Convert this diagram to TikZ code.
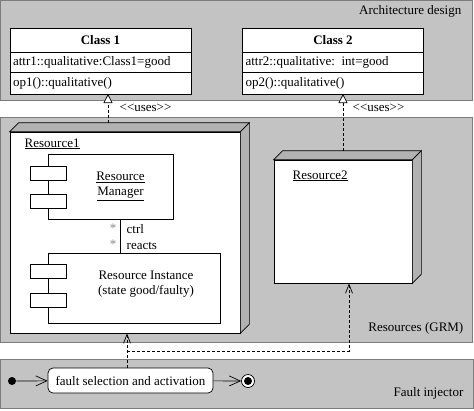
\documentclass[tikz,border=0pt]{standalone}
\usepackage{fontspec}
\setmainfont{Liberation Serif}
\usepackage{tikz}
\usetikzlibrary{arrows.meta,positioning,calc}
\definecolor{panelgray}{HTML}{C3C3C3}
\definecolor{paneledge}{HTML}{7C7C7C}
\definecolor{sidegray}{HTML}{B2B2B2}
\definecolor{stargray}{HTML}{8A8A8A}
\newcommand{\diagfont}{\fontsize{13}{15}\selectfont}
\newcommand{\usestext}{\textless\kern0pt\textless\kern0pt uses\textgreater\kern0pt\textgreater}
% top and right face of a deployment node
\newcommand{\nodefaces}[1]{%
  \filldraw[fill=sidegray] (#1.north west) -- ++(9,-9) -- ($(#1.north east)+(9,-9)$) -- (#1.north east) -- cycle;
  \filldraw[fill=sidegray] (#1.north east) -- ++(9,-9) -- ($(#1.south east)+(9,-9)$) -- (#1.south east) -- cycle;}
\tikzset{
  panel/.style={draw=paneledge,fill=panelgray,anchor=north west,inner sep=0pt},
  clstitle/.style={draw,fill=white,minimum width=181pt,minimum height=24pt,outer sep=0pt,font=\diagfont\bfseries},
  clsrow/.style={draw,fill=white,text width=175pt,inner xsep=3pt,inner ysep=0pt,outer sep=0pt,minimum height=20pt,align=left},
  nodeface/.style={draw,fill=white,inner sep=0pt},
  comp/.style={draw,fill=white,inner sep=0pt},
  stub/.style={draw,fill=white,minimum width=36pt,minimum height=14pt,inner sep=0pt},
  uses/.style={dash pattern=on 3pt off 2pt,-{Triangle[open,length=9pt,width=9pt,fill=white]}},
  trig/.style={dash pattern=on 3pt off 2pt,-{Straight Barb[length=9pt,width=7pt]}},
  trans/.style={-{Straight Barb[length=11pt,width=10pt]}},
  starlbl/.style={text=stargray,inner sep=0pt}
}
\begin{document}
\begin{tikzpicture}[x=1pt,y=-1pt,font=\diagfont,line width=0.7pt]
  \useasboundingbox (0,0) rectangle (474,410);

  % packages
  \node[panel,minimum width=472pt,minimum height=100pt] (arch) at (0,0) {};
  \node[panel,minimum width=472pt,minimum height=225pt] (grm) at (0,117) {};
  \node[panel,minimum width=473pt,minimum height=49pt,line width=1.2pt] (inj) at (0,359) {};
  \node[anchor=base east] (archlbl) at (465,14.5) {Architecture design};
  \node[anchor=base east] (grmlbl) at (467,331) {Resources (GRM)};
  \node[anchor=base east] (injlbl) at (467,396) {Fault injector};

  % classes
  \node[clstitle] (c1name) at (100.5,40) {Class 1};
  \node[clsrow,below=0pt of c1name] (c1attr) {attr1::qualitative:Class1=good};
  \node[clsrow,below=0pt of c1attr,minimum height=22pt] (c1op) {op1()::qualitative()};
  \node[clstitle] (c2name) at (333,40) {Class 2};
  \node[clsrow,below=0pt of c2name] (c2attr) {attr2::qualitative: int=good};
  \node[clsrow,below=0pt of c2attr,minimum height=22pt] (c2op) {op2()::qualitative()};

  % resource nodes
  \node[nodeface,minimum width=230pt,minimum height=201pt] (res1) at (125,232.5) {};
  \nodefaces{res1}
  \node[anchor=base west] (res1lbl) at (21,147) {\underline{Resource1}};
  \node[nodeface,minimum width=138pt,minimum height=123pt] (res2) at (343,221.5) {};
  \nodefaces{res2}
  \node[anchor=base west] (res2lbl) at (289,179) {\underline{Resource2}};

  % components
  \node[comp,minimum width=125pt,minimum height=65pt,
        label={[xshift=10pt,align=center]center:{\underline{Resource}\\\underline{Manager}}}] (rm) at (110.5,186.5) {};
  \node[stub] (rm1) at (48,173) {};
  \node[stub] (rm2) at (48,201) {};
  \node[comp,minimum width=172pt,minimum height=70pt,
        label={[xshift=12pt,yshift=4pt,align=center]center:{Resource Instance\\(state good/faulty)}}] (ri) at (134,288) {};
  \node[stub] (ri1) at (48,271.5) {};
  \node[stub] (ri2) at (48,300) {};

  \coordinate (lnk) at (120,0);
  \draw (rm.south -| lnk) -- (ri.north -| lnk);
  \node[starlbl] (st1) at (113,228) {*};
  \node[starlbl] (st2) at (113,244) {*};
  \node[anchor=base west] (ctrl) at (123,233) {ctrl};
  \node[anchor=base west] (reacts) at (123,249) {reacts};

  % uses dependencies
  \coordinate (r1top) at ($(res1.north)+(-17,-9)$);
  \coordinate (r2top) at ($(res2.north)+(0,-9)$);
  \draw[uses] (r1top) -- (r1top |- c1op.south);
  \draw[uses] (r2top) -- (r2top |- c2op.south);
  \node[anchor=base west] (uses1) at (116,111) {\usestext};
  \node[anchor=base west] (uses2) at (349,111) {\usestext};

  % fault injector
  \node[circle,fill=black,inner sep=0pt,minimum size=8pt] (init) at (12,381) {};
  \node[draw,fill=white,rounded corners=5pt,minimum width=165pt,minimum height=25pt] (fault) at (130.5,380.5) {fault selection and activation};
  \node[circle,draw,fill=white,inner sep=0pt,minimum size=13pt] (final) at (248,381) {};
  \fill (final.center) circle (4pt);
  \draw[trans] (init) -- (fault);
  \draw[trans] (fault) -- (final);

  \coordinate (fsplit) at (127,351);
  \coordinate (r2in) at (349,0);
  \draw[trig] (fault.north -| fsplit) -- (res1.south -| fsplit);
  \draw[trig] (fsplit) -| (res2.south -| r2in);
\end{tikzpicture}
\end{document}
